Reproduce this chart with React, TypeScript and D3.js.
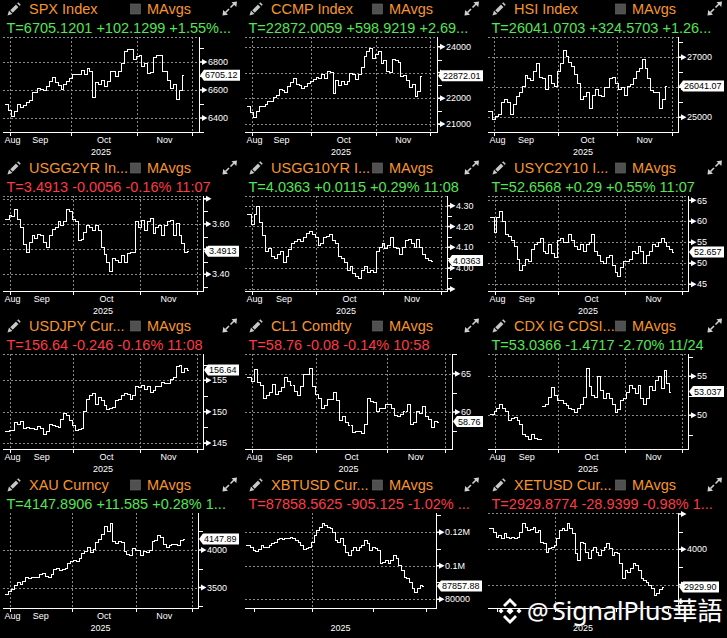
import React from "react";
import * as d3 from "d3";

// ---------------- data ----------------
const MONTHS = ["Aug", "Sep", "Oct", "Nov"];
const YEAR_LABEL = "2025";

// trading-day calendars (bar index units)
const usEqDomain: [number, number] = [-0.9, 66.9];
const usEqMonthTicks = [1.5, 22.5, 45.5, 64.5];
const fxDomain: [number, number] = [-0.93, 68.5];
const fxMonthTicks = [1.5, 23.5, 46.5, 66.5];
const hkDomain: [number, number] = [-0.5, 64.45];
const hkMonthTicks = [1.5, 23.5, 43.5, 62.5];
const cryptoDomain: [number, number] = [-0.9, 71.2];
const cryptoMonthTicks = [2.5, 24.5, 47.5, 67.5];
const cryptoGridTicks = [24.5];

const spxClose = [6501.86, 6460.26, 6415.54, 6448.26, 6502.08, 6481.5, 6495.15, 6512.61, 6532.04, 6587.47, 6584.29, 6615.28, 6606.76, 6600.35, 6631.96, 6664.36, 6693.75, 6656.92, 6637.97, 6604.72, 6643.7, 6661.21, 6688.46, 6711.2, 6715.35, 6715.79, 6740.28, 6714.59, 6753.72, 6735.11, 6552.51, 6654.72, 6644.31, 6671.06, 6629.07, 6664.01, 6735.13, 6735.35, 6699.4, 6738.44, 6791.69, 6875.16, 6890.89, 6890.59, 6822.34, 6840.2, 6851.97, 6771.55, 6796.29, 6720.32, 6728.8, 6832.43, 6846.61, 6850.92, 6737.49, 6734.11, 6672.41, 6617.32, 6642.16, 6538.76, 6602.99, 6705.12];
const ccmpClose = [21705, 21455, 21279, 21497, 21707, 21700, 21798, 21879, 21886, 22043, 22141, 22348, 22333, 22261, 22470, 22631, 22788, 22573, 22497, 22384, 22484, 22591, 22660, 22755, 22844, 22780, 22941, 22789, 23043, 23024, 22204, 22694, 22521, 22670, 22562, 22680, 22990, 22953, 22740, 22941, 23205, 23637, 23827, 23958, 23581, 23725, 23835, 23349, 23500, 23054, 23005, 23528, 23469, 23406, 22871, 22900, 22708, 22433, 22564, 22078, 22273, 22872];
const hsiClose = [25200, 24950, 25050, 25100, 25500, 25600, 25500, 25100, 25450, 25700, 25850, 26050, 26400, 26300, 26250, 26550, 26800, 26350, 26300, 25950, 26400, 26150, 26050, 26550, 26800, 27250, 27050, 26850, 26700, 26450, 26150, 25600, 25700, 25850, 25300, 25750, 25950, 25750, 25700, 26000, 26000, 26300, 26350, 26150, 25950, 26000, 25750, 26050, 26100, 26300, 26550, 26650, 26950, 26650, 26300, 25900, 25850, 25850, 25300, 25600, 26041.07];
const usgg2Close = [3.62, 3.636, 3.63, 3.66, 3.62, 3.59, 3.52, 3.49, 3.53, 3.555, 3.545, 3.56, 3.555, 3.53, 3.51, 3.555, 3.58, 3.59, 3.61, 3.596, 3.61, 3.66, 3.65, 3.62, 3.61, 3.535, 3.54, 3.57, 3.595, 3.59, 3.575, 3.595, 3.575, 3.51, 3.48, 3.45, 3.415, 3.465, 3.455, 3.45, 3.477, 3.45, 3.485, 3.49, 3.49, 3.61, 3.59, 3.615, 3.575, 3.61, 3.625, 3.565, 3.59, 3.596, 3.555, 3.596, 3.61, 3.615, 3.555, 3.603, 3.555, 3.523, 3.49, 3.4913];
const usgg10Close = [4.26, 4.21, 4.26, 4.3, 4.22, 4.16, 4.08, 4.095, 4.06, 4.05, 4.07, 4.08, 4.03, 4.06, 4.09, 4.12, 4.13, 4.14, 4.13, 4.15, 4.17, 4.18, 4.165, 4.15, 4.11, 4.12, 4.15, 4.155, 4.165, 4.135, 4.12, 4.06, 4.05, 4.03, 3.99, 4.01, 3.975, 3.96, 3.95, 3.99, 4.01, 3.98, 3.99, 3.98, 4.08, 4.1, 4.12, 4.095, 4.11, 4.15, 4.1, 4.095, 4.07, 4.1, 4.135, 4.14, 4.12, 4.1, 4.14, 4.1, 4.07, 4.05, 4.04, 4.0363];
const usyc2y10Close = [61, 57.5, 61, 62.5, 60, 57, 56.5, 55.5, 54, 51, 48.5, 49.5, 51, 50.5, 53.5, 54.5, 55, 56, 53, 52.5, 54.5, 52.5, 51.5, 55.5, 56, 55, 55, 57, 55.5, 54, 53.5, 54.5, 53, 54.5, 55, 57, 53, 52, 50.5, 50, 51.5, 52, 49.5, 48, 47, 49, 50.5, 50.5, 51, 53, 52.5, 54, 53, 50, 52, 53, 54.5, 54, 55, 56, 55, 54, 53.5, 52.66];
const usdjpyClose = [146.9, 147.05, 147.1, 148.35, 148.1, 148.45, 147.4, 147.5, 147.4, 147.45, 147.2, 147.7, 147.4, 146.5, 146.9, 148.0, 147.95, 147.7, 147.6, 148.9, 149.8, 149.5, 148.6, 147.9, 147.1, 147.25, 147.4, 150.1, 152.0, 152.7, 153.0, 151.2, 152.3, 151.8, 151.0, 150.4, 150.6, 150.7, 151.9, 152.0, 152.6, 152.9, 152.8, 152.1, 152.7, 154.1, 154.0, 154.2, 153.6, 154.1, 153.1, 153.4, 154.1, 154.1, 154.8, 154.5, 154.5, 155.2, 155.5, 157.2, 157.5, 156.4, 156.9, 156.64];
const cl1Close = [64.6, 64.01, 65.59, 63.97, 63.48, 61.87, 62.26, 62.63, 63.67, 62.37, 62.69, 63.3, 64.52, 64.05, 63.57, 62.68, 62.28, 63.41, 64.99, 64.98, 65.72, 63.45, 62.37, 61.78, 60.48, 60.88, 61.69, 61.73, 62.55, 61.51, 58.9, 59.49, 58.7, 58.27, 57.46, 57.54, 57.52, 57.24, 58.5, 61.79, 61.5, 61.31, 60.15, 60.48, 60.57, 60.98, 61.05, 60.56, 59.6, 59.43, 59.75, 60.13, 61.04, 58.49, 58.69, 60.09, 59.91, 60.74, 59.44, 59.14, 58.06, 58.84, 58.76];
const cdxClose = [50.2, 50.6, 50.9, 51.5, 50.9, 50.6, 49.4, 49.6, 49.8, 49.4, 48.9, 47.6, 47.4, 46.9, 47.6, 47.1, 46.9, 47.0, 51.2, 51.5, 52.4, 53.6, 52.6, 51.9, 51.9, 51.6, 51.3, 51.0, 50.8, 50.4, 51.0, 51.5, 52.4, 56.1, 53.8, 52.6, 52.4, 55.1, 53.2, 52.2, 52.8, 52.2, 51.5, 50.4, 50.8, 51.9, 52.2, 53.0, 53.9, 53.5, 52.8, 53.9, 52.2, 51.5, 52.2, 53.7, 53.2, 54.5, 55.1, 53.5, 55.8, 54.1, 53.04];
const cdxRollBreaks = [18];
const xauClose = [3417, 3448, 3476, 3533, 3578, 3545, 3587, 3636, 3626, 3640, 3634, 3643, 3679, 3689, 3660, 3645, 3685, 3746, 3764, 3736, 3749, 3760, 3833, 3858, 3866, 3857, 3887, 3961, 3985, 4040, 3976, 4018, 4110, 4142, 4209, 4326, 4251, 4356, 4125, 4095, 4126, 4112, 3981, 3953, 3930, 4025, 4003, 4001, 3932, 3980, 3977, 4001, 4115, 4128, 4195, 4171, 4080, 4046, 4066, 4078, 4077, 4065, 4136, 4147.89];
const xbtClose = [112360, 111000, 109400, 109000, 109800, 112400, 111400, 111000, 112400, 113400, 114400, 115700, 116300, 115700, 116300, 116700, 117300, 116300, 115300, 114400, 112400, 109800, 110400, 111000, 114400, 118300, 121300, 122900, 125300, 124300, 123300, 122300, 120400, 115300, 114400, 116300, 112400, 108400, 106400, 109400, 111400, 109400, 111400, 112400, 115300, 113400, 109400, 111400, 110400, 109400, 101400, 102400, 103400, 101400, 103400, 106400, 104400, 100400, 97400, 93400, 92500, 90500, 86500, 84500, 86500, 88500, 87858.56];
const xetClose = [4600, 4500, 4360, 4400, 4310, 4450, 4360, 4310, 4360, 4310, 4360, 4500, 4737, 4640, 4550, 4570, 4620, 4500, 4550, 4220, 4170, 3935, 4030, 4060, 4120, 4310, 4550, 4600, 4550, 4737, 4600, 4450, 3885, 3700, 4220, 4170, 3935, 3745, 3980, 4075, 3935, 3840, 3980, 4060, 4170, 4030, 3840, 3935, 3885, 3600, 3180, 3415, 3365, 3460, 3600, 3555, 3415, 3180, 3130, 3085, 2990, 2895, 2706, 2750, 2866, 2929.88];

const titles = ["SPX Index", "CCMP Index", "HSI Index", "USGG2YR In...", "USGG10YR I...", "USYC2Y10 I...", "USDJPY Cur...", "CL1 Comdty", "CDX IG CDSI...", "XAU Curncy", "XBTUSD Cur...", "XETUSD Cur..."];
const quotes = [
  "T=6705.1201 +102.1299 +1.55%...",
  "T=22872.0059 +598.9219 +2.69...",
  "T=26041.0703 +324.5703 +1.26...",
  "T=3.4913 -0.0056 -0.16% 11:07",
  "T=4.0363 +0.0115 +0.29% 11:08",
  "T=52.6568 +0.29 +0.55% 11:07",
  "T=156.64 -0.246 -0.16% 11:08",
  "T=58.76 -0.08 -0.14% 10:58",
  "T=53.0366 -1.4717 -2.70% 11/24",
  "T=4147.8906 +11.585 +0.28% 1...",
  "T=87858.5625 -905.125 -1.02% ...",
  "T=2929.8774 -28.9399 -0.98% 1...",
];
const quoteUp = [true, true, true, false, true, true, false, false, true, true, false, false];
const lastLabels = ["6705.12", "22872.01", "26041.07", "3.4913", "4.0363", "52.657", "156.64", "58.76", "53.037", "4147.89", "87857.88", "2929.90"];
const yDomains: [number, number][] = [
  [6300, 6978.6], [20694, 24376], [24510, 27677],
  [3.3336, 3.7113], [3.8899, 4.3466], [43.4, 66.02],
  [144.06, 159.19], [55.18, 67.56], [45.68, 57.86],
  [3226.7, 4493.3], [74746, 131463], [2337, 5028],
];
const majorSteps = [200, 1000, 1000, 0.1, 0.1, 5, 5, 5, 5, 500, 20000, 1000];
const minorSteps = [100, 500, 500, 0.05, 0.05, 0, 2.5, 2.5, 2.5, 250, 10000, 500];

// ---------------- styling ----------------
const FONT = "'Liberation Sans', Arial, Helvetica, sans-serif";
const ORANGE = "#f7962a";
const GREEN = "#55e455";
const RED = "#ff3a44";
const GRID = "#8a8a8a";
const COL_X = [0, 242, 485];
const ROW_Y = [0, 159, 317, 476];
const PLOT_L = 3, PLOT_T = 37, PLOT_B = 132;

type Cal = { domain: [number, number]; ticks: number[]; grid: number[]; months: boolean };
const EQ: Cal = { domain: usEqDomain, ticks: usEqMonthTicks, grid: usEqMonthTicks, months: true };
const FX: Cal = { domain: fxDomain, ticks: fxMonthTicks, grid: fxMonthTicks, months: true };
const HK: Cal = { domain: hkDomain, ticks: hkMonthTicks, grid: hkMonthTicks, months: true };
const CR: Cal = { domain: cryptoDomain, ticks: cryptoMonthTicks, grid: cryptoGridTicks, months: false };

type Panel = {
  i: number; data: number[]; cal: Cal; axisX: number; fmt: (v: number) => string;
  topBorder: boolean; breaks?: number[];
};
const fInt = d3.format("d");
const f2 = d3.format(".2f");
const fBtc = (v: number) => (v >= 100000 ? `${+(v / 1e6).toFixed(2)}M` : fInt(v));

const PANELS: Panel[] = [
  { i: 0, data: spxClose, cal: EQ, axisX: 199, fmt: fInt, topBorder: true },
  { i: 1, data: ccmpClose, cal: EQ, axisX: 195, fmt: fInt, topBorder: true },
  { i: 2, data: hsiClose, cal: HK, axisX: 193, fmt: fInt, topBorder: true },
  { i: 3, data: usgg2Close, cal: FX, axisX: 203, fmt: f2, topBorder: true },
  { i: 4, data: usgg10Close, cal: FX, axisX: 205, fmt: f2, topBorder: true },
  { i: 5, data: usyc2y10Close, cal: FX, axisX: 203, fmt: fInt, topBorder: true },
  { i: 6, data: usdjpyClose, cal: FX, axisX: 203, fmt: fInt, topBorder: true },
  { i: 7, data: cl1Close, cal: EQ, axisX: 210, fmt: fInt, topBorder: true },
  { i: 8, data: cdxClose, cal: FX, axisX: 203, fmt: fInt, topBorder: true, breaks: cdxRollBreaks },
  { i: 9, data: xauClose, cal: FX, axisX: 198, fmt: fInt, topBorder: false },
  { i: 10, data: xbtClose, cal: CR, axisX: 194, fmt: fBtc, topBorder: false },
  { i: 11, data: xetClose, cal: CR, axisX: 193, fmt: fInt, topBorder: true },
];

const charW = (c: string) => (c === "." ? 0.278 : c === "M" ? 0.833 : 0.556);
const textW = (s: string, fs: number) => [...s].reduce((a, c) => a + charW(c), 0) * fs;

function multiples(lo: number, hi: number, step: number) {
  if (!step) return [] as number[];
  const k0 = Math.ceil(lo / step - 1e-9), k1 = Math.floor(hi / step + 1e-9);
  return d3.range(k0, k1 + 1).map((k) => +(k * step).toFixed(6));
}

function PanelView({ p }: { p: Panel }) {
  const ox = COL_X[p.i % 3], oy = ROW_Y[Math.floor(p.i / 3)];
  const ax = p.axisX;
  const x = d3.scaleLinear().domain(p.cal.domain).range([PLOT_L, ax]);
  const y = d3.scaleLinear().domain(yDomains[p.i]).range([PLOT_B, PLOT_T]);
  const step = x(1) - x(0);
  const tl = step * 0.5;
  const [lo, hi] = yDomains[p.i];
  const major = majorSteps[p.i], minor = minorSteps[p.i];
  const majors = multiples(lo, hi, major).filter((v) => y(v) >= 36 && y(v) <= PLOT_B);
  const minors = multiples(lo, hi, minor).filter(
    (v) => Math.abs(v / major - Math.round(v / major)) > 1e-6 && y(v) >= 36 && y(v) <= PLOT_B
  );
  const breaks = p.breaks || [];

  let bars = "";
  p.data.forEach((c, i) => {
    const o = i > 0 && !breaks.includes(i) ? p.data[i - 1] : c;
    const xi = Math.round(x(i)) + 0.5;
    const yo = Math.round(y(o)) + 0.5;
    const yc = Math.round(y(c)) + 0.5;
    bars += `M${(xi - tl).toFixed(1)},${yo}H${xi}V${yc}H${(xi + tl).toFixed(1)}`;
  });

  const last = p.data[p.data.length - 1];
  const yl = y(last);
  const lastText = lastLabels[p.i];
  const tw = textW(lastText, 9);
  const bx0 = ax + 1, bx1 = ax + 6 + tw + 2.5;
  const boxPath = `M${bx0},${yl}L${ax + 5},${yl - 5.5}H${bx1}V${yl + 5.5}H${ax + 5}Z`;

  const t = p.cal.ticks.map((v) => x(v));
  const monthPos = [
    { s: MONTHS[0], x: 4.5, a: "start" },
    { s: MONTHS[1], x: (t[0] + t[1]) / 2, a: "middle" },
    { s: MONTHS[2], x: (t[1] + t[2]) / 2, a: "middle" },
    { s: MONTHS[3], x: (t[2] + t[3]) / 2, a: "middle" },
  ];

  return (
    <g transform={`translate(${ox},${oy})`} fontFamily={FONT}>
      {/* header */}
      <g>
        <line x1={11.5} y1={11.5} x2={19.5} y2={3.5} stroke="#c8c8c8" strokeWidth={3.6} />
        <line x1={17.2} y1={5.8} x2={18.4} y2={4.6} stroke="#000" strokeWidth={4} />
        <polygon points="7.5,15.5 9,10.6 12.4,14" fill="#c8c8c8" />
        <text x={29} y={14} fontSize={14.5} fill={ORANGE}>{titles[p.i]}</text>
        <rect x={130.5} y={4} width={10} height={10} fill="#505050" stroke="#6a6a6a" strokeWidth={0.6} />
        <text x={147} y={14} fontSize={14.5} fill={ORANGE}>MAvgs</text>
        <g stroke="#d0d0d0" strokeWidth={1.6} fill="#d0d0d0">
          <line x1={230.5} y1={7.5} x2={234} y2={4} />
          <polygon points="237,1.5 231.5,2.2 236.3,7" stroke="none" />
          <line x1={229} y1={9} x2={225.5} y2={12.5} />
          <polygon points="222.5,15.5 223.2,10 228,14.8" stroke="none" />
        </g>
        <text x={6.5} y={33} fontSize={14.5} fill={quoteUp[p.i] ? GREEN : RED}>{quotes[p.i]}</text>
      </g>

      {/* grid */}
      <g stroke={GRID} strokeWidth={1} strokeDasharray="2,2" shapeRendering="crispEdges">
        {p.topBorder && <line x1={PLOT_L} x2={ax} y1={PLOT_T + 0.5} y2={PLOT_T + 0.5} />}
        {majors.filter((v) => y(v) > 39).map((v) => (
          <line key={"h" + v} x1={PLOT_L} x2={ax} y1={Math.round(y(v)) + 0.5} y2={Math.round(y(v)) + 0.5} />
        ))}
        {p.cal.grid.map((v) => (
          <line key={"v" + v} x1={Math.round(x(v)) + 0.5} x2={Math.round(x(v)) + 0.5} y1={PLOT_T} y2={PLOT_B} />
        ))}
      </g>

      {/* bars */}
      <path d={bars} stroke="#fff" strokeWidth={1} fill="none" shapeRendering="crispEdges" />

      {/* axes */}
      <g stroke="#fff" strokeWidth={1} shapeRendering="crispEdges">
        <line x1={ax + 0.5} x2={ax + 0.5} y1={PLOT_T} y2={PLOT_B + 1} />
        <line x1={PLOT_L} x2={ax + 1} y1={PLOT_B + 0.5} y2={PLOT_B + 0.5} />
        {p.cal.ticks.map((v) => (
          <line key={"xt" + v} x1={Math.round(x(v)) + 0.5} x2={Math.round(x(v)) + 0.5} y1={PLOT_B} y2={PLOT_B + 4} />
        ))}
        {minors.map((v) => (
          <line key={"mi" + v} x1={ax} x2={ax + 5} y1={Math.round(y(v)) + 0.5} y2={Math.round(y(v)) + 0.5} />
        ))}
      </g>
      {majors.map((v) => {
        const yy = y(v);
        const showLabel = yy >= 40 && yy <= 127 && Math.abs(yy - yl) >= 5;
        return (
          <g key={"ma" + v}>
            <polygon
              points={`${ax},${yy - 0.8} ${ax + 3},${yy - 0.8} ${ax + 3},${yy - 3} ${ax + 8.5},${yy} ${ax + 3},${yy + 3} ${ax + 3},${yy + 0.8} ${ax},${yy + 0.8}`}
              fill="#fff"
            />
            {showLabel && (
              <text x={ax + 9} y={Math.max(yy, 42)} dy="0.35em" fontSize={9} fill="#fff">{p.fmt(v)}</text>
            )}
          </g>
        );
      })}

      {/* x labels */}
      {p.cal.months &&
        monthPos.map((m) => (
          <text key={m.s} x={m.x} y={142.5} fontSize={9} fill="#fff" textAnchor={m.a as any}>{m.s}</text>
        ))}
      <text x={(PLOT_L + ax) / 2} y={154.5} fontSize={9} fill="#fff" textAnchor="middle">{YEAR_LABEL}</text>

      {/* last value */}
      <path d={boxPath} fill="#fff" />
      <text x={ax + 6} y={yl} dy="0.35em" fontSize={9} fill="#000">{lastText}</text>
    </g>
  );
}

function Watermark() {
  const cx = 510, cy = 611;
  const dia = (dx: number, dy: number, r: number) =>
    `M${cx + dx},${cy + dy - r}L${cx + dx + r},${cy + dy}L${cx + dx},${cy + dy + r}L${cx + dx - r},${cy + dy}Z`;
  return (
    <g fill="#fff">
      <path d={dia(0, 0, 3.6) + dia(-9, 0, 2.6) + dia(9, 0, 2.6)} />
      <path d={`M${cx - 7},${cy - 6}L${cx},${cy - 13}L${cx + 7},${cy - 6}L${cx + 5},${cy - 4}L${cx},${cy - 9}L${cx - 5},${cy - 4}Z`} />
      <path d={`M${cx - 7},${cy + 6}L${cx},${cy + 13}L${cx + 7},${cy + 6}L${cx + 5},${cy + 4}L${cx},${cy + 9}L${cx - 5},${cy + 4}Z`} />
      <text x={527} y={620} fontSize={24} fontFamily="'Noto Sans', 'Noto Sans CJK SC', sans-serif" stroke="#333" strokeWidth={0.6} paintOrder="stroke">@</text>
      <text x={552} y={620} fontSize={25} fontFamily="'Noto Sans', 'Noto Sans CJK SC', sans-serif" stroke="#333" strokeWidth={0.6} paintOrder="stroke">SignalPlus華語</text>
    </g>
  );
}

export default function App() {
  return (
    <svg
      width={727}
      height={638}
      viewBox="0 0 727 638"
      style={{ position: "absolute", left: 0, top: 0, display: "block", background: "#000" }}
    >
      <rect x={0} y={0} width={727} height={638} fill="#000" />
      {PANELS.map((p) => (
        <PanelView key={p.i} p={p} />
      ))}
      <Watermark />
    </svg>
  );
}
